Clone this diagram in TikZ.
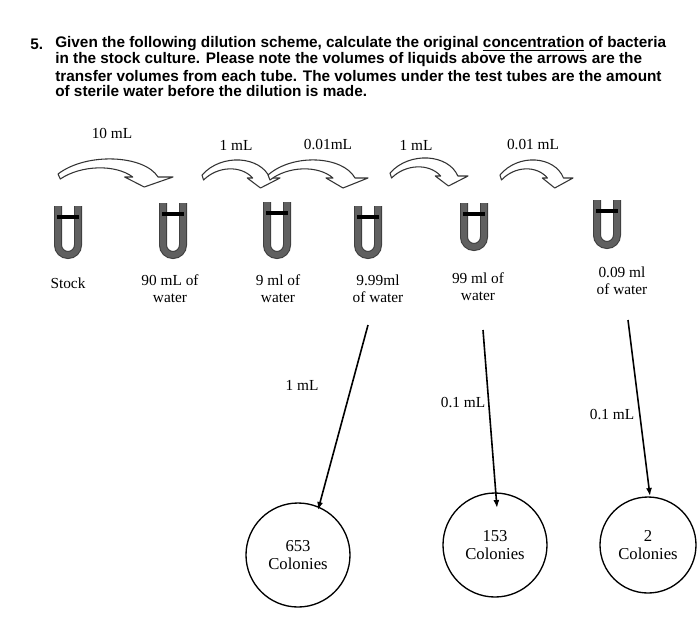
\documentclass[tikz,border=0pt]{standalone}
\usepackage{fontspec}
\setmainfont{Liberation Serif}
\newfontfamily\titlefont{Liberation Sans}
\usetikzlibrary{arrows.meta}
\tikzset{
  lbl/.style={font=\fontsize{11.5}{12.5}\selectfont, align=center, inner sep=1pt},
  ttl/.style={font=\titlefont\bfseries\fontsize{11.5}{13}\selectfont, anchor=west, inner sep=0pt},
  blockarrow/.style={draw=black!80, fill=white, line width=0.8pt, line join=round},
  tubeout/.style={draw=black!75, line width=6pt},
  tubein/.style={draw=gray!75!black, line width=4.4pt},
  dil/.style={line width=1.2pt, -{Latex[length=6pt]}},
  plate/.style={draw, circle, line width=1pt, minimum size=78pt, font=\fontsize{12.5}{14}\selectfont, align=center}
}
% #1 tail x, #2 width, #3 base y
\newcommand{\blockarr}[3]{%
  \draw[blockarrow] (#1,#3-3) .. controls (#1+0.25*#2,#3-25) and (#1+0.75*#2,#3-22) .. (#1+0.87*#2,#3)
    -- (#1+#2,#3) -- (#1+0.75*#2,#3+10) -- (#1+0.58*#2,#3)
    -- (#1+0.65*#2,#3) .. controls (#1+0.5*#2,#3-13) and (#1+0.2*#2,#3-12) .. (#1+0.02*#2,#3+2) -- cycle;
}
% #1 centre x, #2 top y, #3 bottom y
\newcommand{\drawtube}[3]{%
  \draw[tubeout] (#1-10,#2) -- (#1-10,#3-13) arc[start angle=180,end angle=0,radius=10] -- (#1+10,#2);
  \draw[tubein] (#1-10,#2) -- (#1-10,#3-13) arc[start angle=180,end angle=0,radius=10] -- (#1+10,#2);
  \draw[line width=3.5pt] (#1-11,#2+11) -- (#1+11,#2+11);
}
\begin{document}
\begin{tikzpicture}[x=0.75pt,y=-0.75pt]
\path[fill=white] (0,0) rectangle (700,626);
\node[ttl] (t0) at (30,44) {5.};
\node[ttl] (t1) at (55,44) {Given the following dilution scheme, calculate the original \underline{concentration} of bacteria};
\node[ttl] (t2) at (55,60) {in the stock culture. Please note the volumes of liquids above the arrows are the};
\node[ttl] (t3) at (55,76) {transfer volumes from each tube. The volumes under the test tubes are the amount};
\node[ttl] (t4) at (55,91) {of sterile water before the dilution is made.};

\node[lbl] (v1) at (112,133) {10 mL};
\node[lbl] (v2) at (236,145) {1 mL};
\node[lbl] (v3) at (328,145) {0.01mL};
\node[lbl] (v4) at (416,145) {1 mL};
\node[lbl] (v5) at (533,145) {0.01 mL};

\blockarr{58}{115}{177}
\blockarr{202}{78}{178}
\blockarr{268}{100}{178}
\blockarr{390}{78}{176}
\blockarr{500}{73}{178}

\drawtube{68}{206}{258}
\drawtube{173}{203}{258}
\drawtube{277}{202}{258}
\drawtube{368}{206}{258}
\drawtube{474}{203}{250}
\drawtube{607}{200}{248}

\node[lbl] (w0) at (68,283) {Stock};
\node[lbl] (w1) at (170,289) {90 mL of\\water};
\node[lbl] (w2) at (278,289) {9 ml of\\water};
\node[lbl] (w3) at (378,289) {9.99ml\\of water};
\node[lbl] (w4) at (478,287) {99 ml of\\water};
\node[lbl] (w5) at (622,281) {0.09 ml\\of water};

\node[plate] (p1) at (298,555) {653\\Colonies};
\node[plate] (p2) at (495,545) {153\\Colonies};
\node[plate, minimum size=72pt] (p3) at (648,545) {2\\Colonies};

\coordinate (s1) at (368,325);
\coordinate (s2) at (483,330);
\coordinate (s3) at (628,320);
\draw[dil] (s1) -- (318,510);
\draw[dil] (s2) -- (497,508);
\draw[dil] (s3) -- (650,496);

\node[lbl] (m1) at (302,385) {1 mL};
\node[lbl] (m2) at (463,403) {0.1 mL};
\node[lbl] (m3) at (612,414) {0.1 mL};
\end{tikzpicture}
\end{document}
